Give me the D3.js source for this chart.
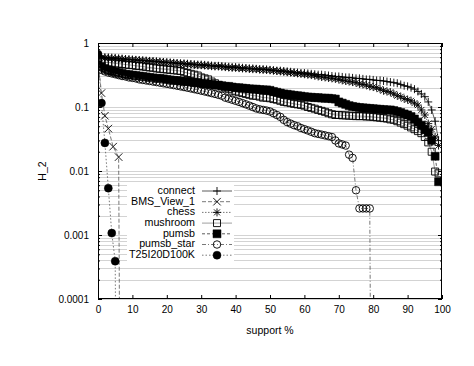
<!DOCTYPE html>
<html><head><meta charset="utf-8">
<script src="https://cdn.jsdelivr.net/npm/d3@7"></script>
<style>
body{margin:0;background:#fff;}
text{font-family:"Liberation Sans",Arial,Helvetica,sans-serif;fill:#000;}
</style></head>
<body><svg id="c" width="474" height="366"></svg>
<script>
// ---- data (support %, H_2) ----
const xTicks = [0,10,20,30,40,50,60,70,80,90,100];
const yTicks = [1,0.1,0.01,0.001,0.0001];
const yTickLabels = ["1","0.1","0.01","0.001","0.0001"];
const seriesNames = ["connect","BMS_View_1","chess","mushroom","pumsb","pumsb_star","T25I20D100K"];

const denseSupport = d3.range(0,100);
const connectValues = [.62,.61,.60,.595,.59,.585,.575,.57,.56,.555,.55,.545,.54,.535,.53,.525,.52,.515,.51,.505,.50,.495,.49,.485,.48,.48,.475,.47,.465,.46,.46,.455,.45,.445,.44,.44,.435,.43,.425,.42,.42,.415,.41,.405,.40,.40,.395,.39,.39,.385,.38,.375,.37,.37,.365,.36,.355,.35,.345,.34,.34,.335,.33,.325,.32,.32,.315,.31,.305,.30,.30,.295,.29,.29,.285,.28,.28,.275,.27,.27,.265,.26,.26,.255,.25,.245,.24,.235,.225,.215,.21,.20,.19,.175,.16,.145,.12,.09,.06,.03];
const chessValues = [.60,.59,.585,.58,.575,.57,.565,.56,.555,.55,.545,.54,.535,.53,.525,.52,.515,.51,.505,.50,.495,.49,.485,.48,.475,.47,.465,.46,.455,.45,.45,.445,.44,.435,.43,.43,.425,.42,.415,.41,.41,.405,.40,.40,.395,.39,.39,.385,.38,.38,.375,.37,.365,.36,.355,.35,.345,.34,.335,.33,.325,.32,.315,.31,.30,.295,.29,.285,.28,.275,.27,.26,.255,.25,.245,.24,.23,.225,.22,.21,.205,.20,.19,.18,.175,.17,.16,.15,.145,.135,.13,.125,.115,.107,.09,.075,.055,.045,.034,.025];
const mushroomValues = [.52,.51,.50,.495,.49,.48,.475,.47,.46,.455,.45,.44,.435,.43,.42,.415,.41,.40,.395,.39,.385,.38,.375,.37,.365,.35,.34,.33,.32,.31,.29,.28,.27,.25,.235,.22,.21,.20,.19,.18,.175,.17,.165,.16,.155,.15,.15,.145,.14,.14,.137,.133,.13,.125,.12,.118,.115,.112,.11,.108,.105,.10,.097,.094,.09,.087,.084,.08,.077,.075,.075,.074,.074,.073,.073,.072,.072,.072,.071,.071,.07,.069,.068,.067,.066,.064,.063,.06,.057,.054,.051,.048,.045,.042,.039,.034,.028,.02,.0098,.0092];
const pumsbValues = [.46,.43,.40,.38,.365,.355,.345,.335,.325,.32,.315,.31,.305,.30,.295,.29,.285,.28,.28,.275,.27,.265,.26,.26,.255,.25,.25,.245,.24,.24,.235,.23,.23,.225,.22,.22,.215,.21,.21,.205,.20,.20,.197,.195,.192,.19,.19,.187,.185,.185,.182,.175,.17,.165,.16,.158,.155,.152,.15,.148,.145,.143,.142,.14,.14,.138,.137,.137,.135,.133,.12,.115,.11,.105,.102,.10,.098,.097,.096,.095,.094,.093,.092,.091,.09,.09,.088,.085,.082,.078,.075,.071,.065,.058,.052,.045,.04,.03,.017,.0068];
const pumsbStarSupport = d3.range(0,81);
const pumsbStarValues = [.42,.38,.36,.345,.335,.325,.315,.305,.30,.29,.285,.28,.27,.265,.26,.255,.25,.245,.24,.235,.23,.225,.22,.215,.21,.205,.20,.195,.19,.185,.18,.175,.17,.165,.16,.155,.15,.14,.135,.13,.125,.12,.115,.11,.105,.10,.095,.092,.09,.088,.085,.08,.075,.07,.063,.058,.055,.052,.05,.047,.045,.043,.041,.039,.038,.037,.036,.035,.034,.03,.027,.026,.025,.018,.016,.005,.0026,.0026,.0026,.0026,0];
const bmsSupport = [0,1,2,3,4.4,6,7];
const bmsValues = [.55,.165,.073,.046,.024,.0165,0];
const t25Support = [0,1,2,3,4,5,6];
const t25Values = [.67,.115,.0275,.0054,.00107,.00039,0];

// ---- layout ----
const svg = d3.select("#c");
const L=98,R=442,T=43,B=299;
const x = d3.scaleLinear().domain([0,100]).range([L,R]);
const y = d3.scaleLog().domain([1e-4,1]).range([B,T]);

const minorY = [];
[1e-4,1e-3,1e-2,1e-1].forEach(d=>{for(let k=2;k<=9;k++) minorY.push(d*k);});

svg.append("defs").append("clipPath").attr("id","clip")
  .append("rect").attr("x",L).attr("y",T).attr("width",R-L).attr("height",B-T);

// grid
const grid = svg.append("g");
grid.selectAll("line").data(yTicks.concat(minorY)).join("line")
  .attr("x1",L).attr("x2",R).attr("y1",d=>Math.round(y(d))+0.5).attr("y2",d=>Math.round(y(d))+0.5)
  .attr("stroke","#c8c8c8").attr("stroke-width",0.8);

// axes
const ax = svg.append("g");
const styleAxis = g=>{g.select(".domain").remove(); g.selectAll("line").attr("stroke","#000"); g.selectAll("text").attr("font-size","10px").attr("fill","#000");};
ax.append("g").attr("transform",`translate(${L},0)`)
  .call(d3.axisLeft(y).tickValues(yTicks).tickSize(-4).tickPadding(9).tickFormat((d,i)=>yTickLabels[i])).call(styleAxis);
ax.append("g").attr("transform",`translate(${L},0)`)
  .call(d3.axisLeft(y).tickValues(minorY).tickSize(-2).tickFormat("")).call(styleAxis);
ax.append("g").attr("transform",`translate(${R},0)`)
  .call(d3.axisRight(y).tickValues(yTicks).tickSize(-4).tickFormat("")).call(styleAxis);
ax.append("g").attr("transform",`translate(${R},0)`)
  .call(d3.axisRight(y).tickValues(minorY).tickSize(-2).tickFormat("")).call(styleAxis);
ax.append("g").attr("transform",`translate(0,${B})`)
  .call(d3.axisBottom(x).tickValues(xTicks).tickSize(-4).tickPadding(7)).call(styleAxis);
ax.append("g").attr("transform",`translate(0,${T})`)
  .call(d3.axisTop(x).tickValues(xTicks).tickSize(-4).tickFormat("")).call(styleAxis);

svg.append("text").attr("transform",`translate(43,${(T+B)/2}) rotate(-90)`)
  .attr("text-anchor","middle").attr("dominant-baseline","middle").attr("font-size","10.5px").text("H_2");
svg.append("text").attr("x",(L+R)/2).attr("y",334).attr("text-anchor","middle").attr("font-size","10.5px").text("support %");

// markers
function markerPath(kind,s){
  const h=s/2;
  switch(kind){
    case "plus": return `M${-h},0H${h}M0,${-h}V${h}`;
    case "cross": return `M${-h},${-h}L${h},${h}M${-h},${h}L${h},${-h}`;
    case "star": return `M${-h},0H${h}M0,${-h}V${h}M${-h*0.75},${-h*0.75}L${h*0.75},${h*0.75}M${-h*0.75},${h*0.75}L${h*0.75},${-h*0.75}`;
    case "square": case "fsquare": return `M${-h},${-h}H${h}V${h}H${-h}Z`;
    case "circle": case "fcircle": return d3.arc()({innerRadius:0,outerRadius:h,startAngle:0,endAngle:2*Math.PI});
  }
}
const series = [
  {name:seriesNames[0],xs:denseSupport,vs:connectValues,kind:"plus",dash:null,lc:"#333"},
  {name:seriesNames[1],xs:bmsSupport,vs:bmsValues,kind:"cross",dash:"4,2",lc:"#555"},
  {name:seriesNames[2],xs:denseSupport,vs:chessValues,kind:"star",dash:"1.5,1.5",lc:"#555"},
  {name:seriesNames[3],xs:denseSupport,vs:mushroomValues,kind:"square",dash:null,lc:"#888"},
  {name:seriesNames[4],xs:denseSupport,vs:pumsbValues,kind:"fsquare",dash:"3,2",lc:"#333"},
  {name:seriesNames[5],xs:pumsbStarSupport,vs:pumsbStarValues,kind:"circle",dash:"4,2,1,2",lc:"#555"},
  {name:seriesNames[6],xs:t25Support,vs:t25Values,kind:"fcircle",dash:"1.5,2",lc:"#555"}
];
const size = {plus:8,cross:7.5,star:8,square:7,fsquare:8,circle:7.5,fcircle:8};
const filled = k=>k==="fsquare"||k==="fcircle";
const yv = v=> v>0 ? y(v) : y(1e-12);

const plot = svg.append("g").attr("clip-path","url(#clip)");
series.forEach(s=>{
  const pts = s.xs.map((xv,i)=>({x:xv,v:s.vs[i]}));
  plot.append("path").datum(pts)
    .attr("d",d3.line().x(d=>x(d.x)).y(d=>yv(d.v)))
    .attr("fill","none").attr("stroke",s.lc).attr("stroke-width",0.8)
    .attr("stroke-dasharray",s.dash);
  plot.append("g").selectAll("path").data(pts.filter(d=>d.v>0)).join("path")
    .attr("transform",d=>`translate(${x(d.x)},${y(d.v)})`)
    .attr("d",markerPath(s.kind,size[s.kind]))
    .attr("fill",filled(s.kind)?"#000":"none")
    .attr("stroke","#000").attr("stroke-width",filled(s.kind)?0.5:0.9);
});

// border
svg.append("rect").attr("x",L+0.5).attr("y",T+0.5).attr("width",R-L-1).attr("height",B-T-1)
  .attr("fill","none").attr("stroke","#000").attr("stroke-width",1);

// legend
const lg = svg.append("g");
const rowH = 10.7, row0 = 191;
lg.append("rect").attr("x",127).attr("y",row0-6).attr("width",107).attr("height",rowH*6+12).attr("fill","#fff");
series.forEach((s,i)=>{
  const ry = row0 + i*rowH;
  lg.append("text").attr("x",195).attr("y",ry).attr("text-anchor","end").attr("dominant-baseline","middle")
    .attr("font-size","10.7px").text(s.name);
  lg.append("line").attr("x1",202).attr("x2",232).attr("y1",ry).attr("y2",ry)
    .attr("stroke",s.lc).attr("stroke-width",0.8).attr("stroke-dasharray",s.dash);
  lg.append("path").attr("transform",`translate(217,${ry})`).attr("d",markerPath(s.kind,size[s.kind]))
    .attr("fill",filled(s.kind)?"#000":"none").attr("stroke","#000").attr("stroke-width",filled(s.kind)?0.5:0.9);
});
</script></body></html>
